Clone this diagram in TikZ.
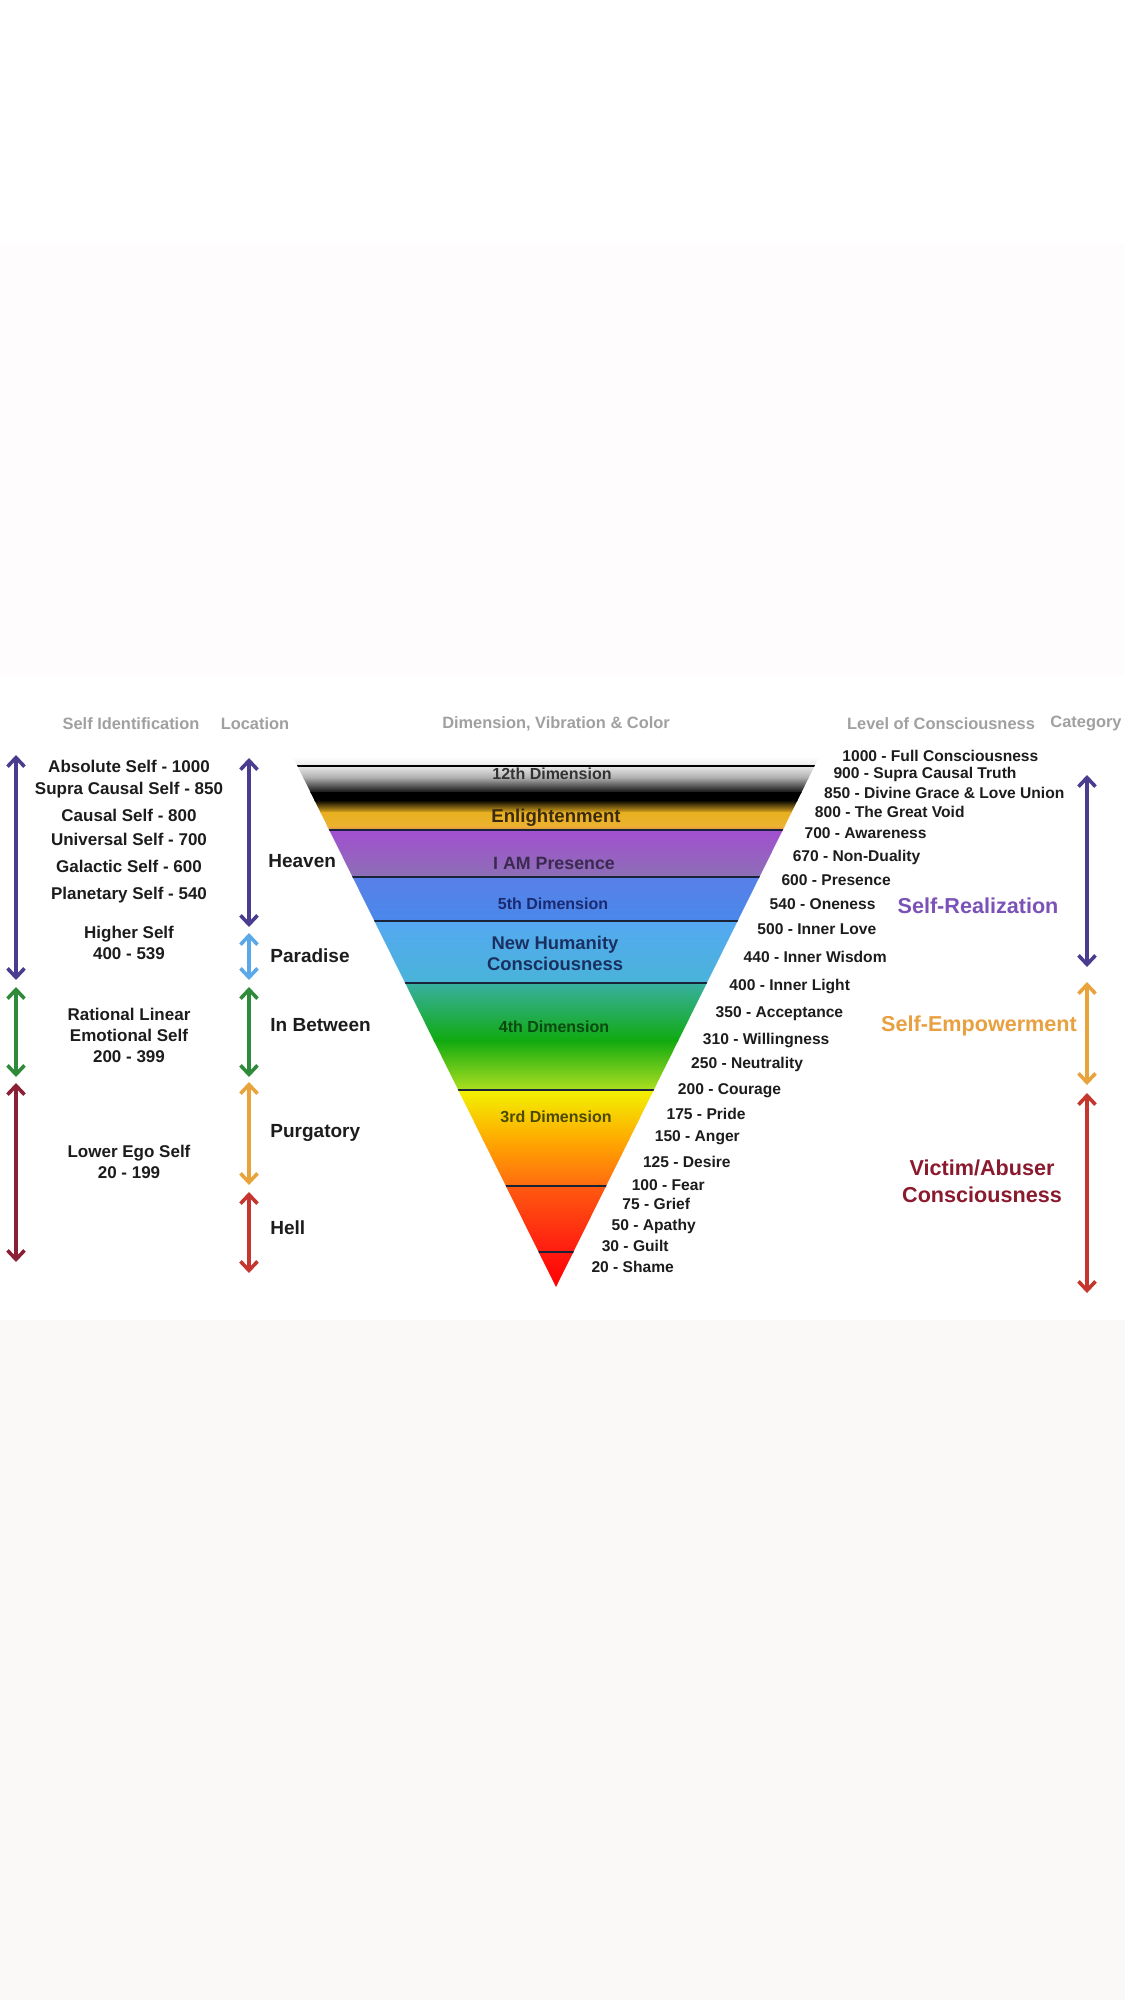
\documentclass[tikz,border=0pt]{standalone}
\usepackage{fontspec}
\setmainfont{Liberation Sans}
\usetikzlibrary{arrows.meta,positioning}

\definecolor{headgrey}{RGB}{160,160,160}
\definecolor{inkblack}{RGB}{28,28,28}
\definecolor{bandline}{RGB}{26,36,56}
\definecolor{bgpink}{RGB}{254,252,252}
\definecolor{bggrey}{RGB}{250,249,248}
\definecolor{spanpurple}{RGB}{74,61,143}
\definecolor{spanblue}{RGB}{90,168,232}
\definecolor{spangreen}{RGB}{47,138,58}
\definecolor{spanwine}{RGB}{138,31,53}
\definecolor{spanorange}{RGB}{232,163,60}
\definecolor{spanred}{RGB}{196,54,46}
\definecolor{catpurple}{RGB}{123,82,184}
\definecolor{catorange}{RGB}{232,160,64}
\definecolor{catwine}{RGB}{139,26,46}

\tikzset{
  head/.style={font=\bfseries\fontsize{8.2}{10}\selectfont, text=headgrey, inner sep=0pt},
  selfid/.style={font=\bfseries\fontsize{8.5}{10.5}\selectfont, text=inkblack, inner sep=0pt, align=center},
  place/.style={font=\bfseries\fontsize{9.5}{11}\selectfont, text=inkblack, inner sep=0pt, anchor=west},
  level/.style={font=\bfseries\fontsize{7.8}{9}\selectfont, text=inkblack, inner sep=0pt, anchor=west},
  dimlabel/.style={font=\bfseries\fontsize{8}{10}\selectfont, inner sep=0pt, align=center},
  category/.style={font=\bfseries\fontsize{10.8}{13.5}\selectfont, inner sep=0pt, align=center},
  span/.style={line width=1.8pt, {Straight Barb[length=4.5pt,width=8.5pt]}-{Straight Barb[length=4.5pt,width=8.5pt]}},
  divider/.style={line width=1pt, draw=bandline},
}

\begin{document}
\begin{tikzpicture}[x=0.5pt, y=-0.5pt]
\useasboundingbox (0,0) rectangle (1125,2000);
\fill[white] (0,0) rectangle (1125,2000);
\fill[bgpink] (0,243) rectangle (1125,676);
\fill[bggrey] (0,1320) rectangle (1125,2000);

% column headings
\node[head] (hself) at (131,724) {Self Identification};
\node[head] (hloc) at (255,724) {Location};
\node[head] (hdim) at (556,724) {Dimension, Vibration \& Color};
\node[head] (hlevel) at (941,724) {Level of Consciousness};
\node[head] (hcat) at (1086,724) {Category};

% the colour triangle
\coordinate (tl) at (293,757);
\coordinate (tr) at (819,757);
\coordinate (apex) at (556,1287);
\begin{scope}
  \clip (tl) -- (tr) -- (apex) -- cycle;
  \foreach \ya/\yb/\ca/\cb in {
      757/766/white/black!10,
      766/778/black!9/black!34,
      778/792/black!34/black!95,
      792/800/black/black,
      800/812/black/{rgb,255:red,232;green,176;blue,32},
      812/826/{rgb,255:red,232;green,176;blue,32}/{rgb,255:red,236;green,178;blue,48},
      826/830/{rgb,255:red,236;green,178;blue,48}/{rgb,255:red,224;green,120;blue,96},
      830/877/{rgb,255:red,162;green,79;blue,208}/{rgb,255:red,140;green,112;blue,181},
      877/921/{rgb,255:red,88;green,128;blue,232}/{rgb,255:red,74;green,136;blue,234},
      921/983/{rgb,255:red,85;green,168;blue,242}/{rgb,255:red,72;green,180;blue,216},
      983/1040/{rgb,255:red,56;green,176;blue,160}/{rgb,255:red,16;green,170;blue,16},
      1040/1090/{rgb,255:red,16;green,170;blue,16}/{rgb,255:red,176;green,224;blue,32},
      1090/1140/{rgb,255:red,242;green,242;blue,0}/{rgb,255:red,255;green,168;blue,0},
      1140/1186/{rgb,255:red,255;green,168;blue,0}/{rgb,255:red,255;green,106;blue,16},
      1186/1252/{rgb,255:red,255;green,90;blue,16}/{rgb,255:red,255;green,26;blue,16},
      1252/1288/{rgb,255:red,255;green,26;blue,16}/{rgb,255:red,255;green,0;blue,0}}
    \shade[top color=\ca, bottom color=\cb] (280,\ya) rectangle (840,\yb+1);
  \draw[line width=0.9pt, black] (280,766) -- (840,766);
  \foreach \y in {830,877,921,983,1090,1186,1252}
    \draw[divider] (280,\y) -- (840,\y);
\end{scope}

\node[dimlabel, text=black!80] (d12) at (552,774) {12th Dimension};
\node[dimlabel, font=\bfseries\fontsize{9.3}{11}\selectfont, text={rgb,255:red,58;green,42;blue,16}] (denl) at (556,818) {Enlightenment};
\node[dimlabel, font=\bfseries\fontsize{8.9}{11}\selectfont, text={rgb,255:red,58;green,42;blue,80}] (diam) at (554,863) {I AM Presence};
\node[dimlabel, text={rgb,255:red,26;green,42;blue,112}] (d5) at (553,904) {5th Dimension};
\node[dimlabel, font=\bfseries\fontsize{9.2}{10.5}\selectfont, text={rgb,255:red,26;green,48;blue,96}] (dnew) at (555,953) {New Humanity\\Consciousness};
\node[dimlabel, text={rgb,255:red,10;green,74;blue,16}] (d4) at (554,1027) {4th Dimension};
\node[dimlabel, text={rgb,255:red,74;green,74;blue,0}] (d3) at (556,1117) {3rd Dimension};

% self identification
\foreach \y/\txt [count=\i] in {766/Absolute Self - 1000, 790/Supra Causal Self - 850,
    815/Causal Self - 800, 839/Universal Self - 700, 866/Galactic Self - 600,
    895/Planetary Self - 540, 943/Higher Self\\400 - 539,
    1035/Rational Linear\\Emotional Self\\200 - 399, 1162/Lower Ego Self\\20 - 199}
  \node[selfid] (self\i) at (129,\y) {\txt};

% locations
\node[place] (heaven) at (268,861) {Heaven};
\node[place] (paradise) at (270,956) {Paradise};
\node[place] (between) at (270,1025) {In Between};
\node[place] (purgatory) at (270,1133) {Purgatory};
\node[place] (hell) at (270,1228) {Hell};

% levels of consciousness, along the right edge
\foreach \y/\txt [count=\i] in {756/1000 - Full Consciousness, 774/900 - Supra Causal Truth,
    793/850 - Divine Grace \& Love Union, 812/800 - The Great Void, 833/700 - Awareness,
    857/670 - Non-Duality, 880/600 - Presence, 904/540 - Oneness, 929/500 - Inner Love,
    957/440 - Inner Wisdom, 986/400 - Inner Light, 1014/350 - Acceptance,
    1040/310 - Willingness, 1064/250 - Neutrality, 1091/200 - Courage, 1114/175 - Pride,
    1138/150 - Anger, 1162/125 - Desire, 1185/100 - Fear, 1204/75 - Grief,
    1226/50 - Apathy, 1246/30 - Guilt, 1267/20 - Shame}
  \node[level] (lvl\i) at ({842-0.491*(\y-756)},\y) {\txt};

% categories
\node[category, text=catpurple] (catreal) at (978,906) {Self-Realization};
\node[category, text=catorange] (catemp) at (979,1026) {Self-Empowerment};
\node[category, text=catwine] (catvic) at (982,1181) {Victim/Abuser\\Consciousness};

% range arrows
\foreach \x/\ya/\yb/\c [count=\i] in {16/755/980/spanpurple, 16/987/1077/spangreen,
    16/1083/1262/spanwine, 249/758/927/spanpurple, 249/933/980/spanblue,
    249/987/1077/spangreen, 249/1082/1185/spanorange, 249/1192/1273/spanred,
    1087/775/967/spanpurple, 1087/982/1085/spanorange, 1087/1093/1293/spanred}
{
  \coordinate (span\i a) at (\x,\ya);
  \coordinate (span\i b) at (\x,\yb);
  \draw[span, draw=\c] (span\i a) -- (span\i b);
}
\end{tikzpicture}
\end{document}
